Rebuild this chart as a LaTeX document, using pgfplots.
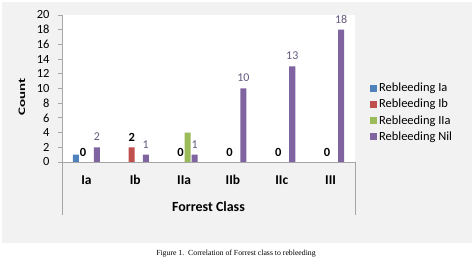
\documentclass[border=0pt]{standalone}
\usepackage{pgfplots}
\pgfplotsset{compat=1.18}
\usepackage{fontspec}
\setmainfont{Carlito}
\newfontfamily\capfont{Liberation Serif}
\definecolor{rbIa}{HTML}{4F81BD}
\definecolor{rbIb}{HTML}{C0504D}
\definecolor{rbIIa}{HTML}{9BBB59}
\definecolor{rbNil}{HTML}{8064A2}
\definecolor{bggray}{HTML}{F2F2F2}
\definecolor{axgray}{HTML}{A6A6A6}
\definecolor{lblpurple}{HTML}{66587E}
\begin{document}
\begin{tikzpicture}
\useasboundingbox (0bp,0bp) rectangle (474bp,257bp);
\fill[white] (0bp,0bp) rectangle (474bp,257bp);
\fill[bggray] (2bp,14bp) rectangle (472bp,255bp);
\begin{axis}[
  at={(62bp,95bp)}, anchor=south west,
  scale only axis, width=293bp, height=147bp,
  xmin=-0.5, xmax=5.5, ymin=0, ymax=20,
  axis background/.style={fill=white},
  axis x line*=bottom, axis y line*=left,
  axis line style={draw=axgray, line width=0.8bp},
  ytick={0,2,...,20},
  xtick={0,1,2,3,4,5},
  xticklabels={Ia,Ib,IIa,IIb,IIc,III},
  major x tick style={draw=none},
  major y tick style={draw=axgray, line width=0.8bp},
  tick align=outside, major tick length=4bp,
  /pgf/number format/assume math mode=true,
  yticklabel style={font=\fontsize{12.5}{12.5}\selectfont, text=black, xshift=-5bp},
  xticklabel style={font=\bfseries\fontsize{13.5}{13.5}\selectfont, text=black, yshift=-6bp},
  xlabel={Forrest Class},
  xlabel style={font=\bfseries\fontsize{14}{14}\selectfont, at={(axis description cs:0.5,-0.306)}, anchor=center},
  ylabel={Count},
  ylabel style={font=\bfseries\fontsize{10}{10}\selectfont, at={(axis description cs:-0.137,0.44)}, anchor=center, xscale=1.5},
  ybar=1bp, bar width=6bp,
  legend style={at={(axis description cs:1.051,0.551)}, anchor=north west, draw=none, fill=none,
    font=\fontsize{12.5}{12.5}\selectfont, row sep=2bp, inner sep=0pt},
  legend cell align=left,
  legend image code/.code={\fill[#1] (0bp,-3.5bp) rectangle (7bp,3.5bp);},
  nodes near coords style={font=\fontsize{12}{12}\selectfont},
]
\addplot[fill=rbIa, draw=none] coordinates {(0,1) (1,0) (2,0) (3,0) (4,0) (5,0)};
\addplot[fill=rbIb, draw=none, nodes near coords,
  every node near coord/.append style={font=\bfseries\fontsize{12.5}{12.5}\selectfont, text=black, yshift=2bp}]
  coordinates {(0,0) (1,2) (2,0) (3,0) (4,0) (5,0)};
\addplot[fill=rbIIa, draw=none] coordinates {(0,0) (1,0) (2,4) (3,0) (4,0) (5,0)};
\addplot[fill=rbNil, draw=none, nodes near coords,
  every node near coord/.append style={font=\fontsize{12}{12}\selectfont, text=lblpurple, yshift=3bp}]
  coordinates {(0,2) (1,1) (2,1) (3,10) (4,13) (5,18)};
\legend{Rebleeding Ia, Rebleeding Ib, Rebleeding IIa, Rebleeding Nil}
\end{axis}
\draw[axgray, line width=0.8bp] (62bp,95bp) -- (62bp,42bp);
\draw[axgray, line width=0.8bp] (355bp,95bp) -- (355bp,42bp);
\node[anchor=base, font=\capfont\fontsize{7.8}{8}\selectfont, inner sep=0pt] at (236bp,2bp) {Figure 1.\ \ Correlation of Forrest class to rebleeding};
\end{tikzpicture}
\end{document}
